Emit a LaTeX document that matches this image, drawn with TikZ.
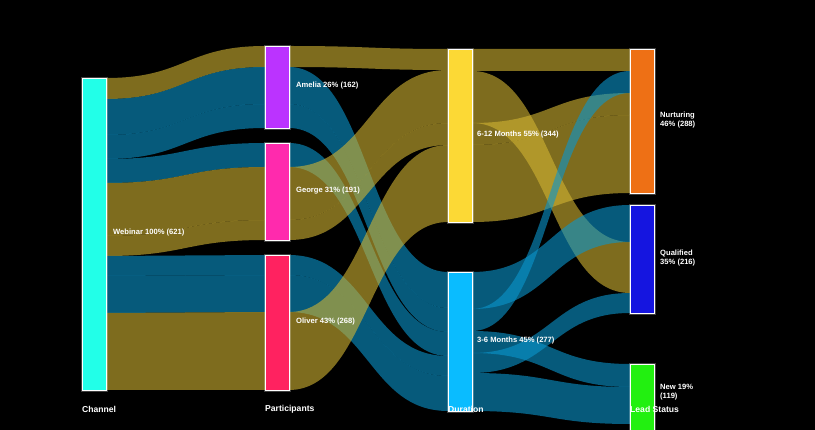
\documentclass[tikz,border=0pt]{standalone}
\usepackage{fontspec}
\setmainfont{Liberation Sans}
\begin{document}
\begin{tikzpicture}[x=1pt,y=-1pt,
  gold/.style={fill={rgb,255:red,210;green,180;blue,50},fill opacity=0.6},
  blu/.style={fill={rgb,255:red,10;green,150;blue,205},fill opacity=0.6},
  nodebox/.style={draw=white,line width=0.9pt,minimum width=24pt,anchor=north west,inner sep=0pt,
     preaction={draw=white,draw opacity=0.25,line width=3pt}},
  lbl/.style={text=white,font=\fontsize{7.6}{8.6}\selectfont\bfseries,anchor=west,inner sep=0pt,align=left},
  ax/.style={text=white,font=\fontsize{8.6}{10}\selectfont\bfseries,anchor=west,inner sep=0pt}]
\fill[black] (0,0) rectangle (815,430);
\useasboundingbox (0,0) rectangle (815,430);
\newcommand{\band}[7]{%
  \path[#7] (#1,#2) .. controls ({(#1+#4)/2},#2) and ({(#1+#4)/2},#5) .. (#4,#5)
    -- (#4,#6) .. controls ({(#1+#4)/2},#6) and ({(#1+#4)/2},#3) .. (#1,#3) -- cycle;}
% Channel -> Participants
\band{106}{78}{99}{265}{46}{67}{gold}
\band{106}{99}{135}{265}{67}{104}{blu}
\band{106}{135}{159}{265}{104}{128}{blu}
\band{106}{159}{183}{265}{143}{167}{blu}
\band{106}{183}{236}{265}{167}{220}{gold}
\band{106}{236}{256}{265}{220}{240}{gold}
\band{106}{256}{276}{265}{255}{275}{blu}
\band{106}{276}{313}{265}{275}{312}{blu}
\band{106}{313}{390}{265}{312}{390}{gold}
% Participants -> Duration
\band{289}{46}{67}{448}{49}{70}{gold}
\band{289}{67}{104}{448}{272}{308}{blu}
\band{289}{104}{128}{448}{308}{332}{blu}
\band{289}{143}{167}{448}{332}{356}{blu}
\band{289}{167}{220}{448}{70}{123}{gold}
\band{289}{220}{240}{448}{123}{145}{gold}
\band{289}{255}{275}{448}{356}{376}{blu}
\band{289}{275}{312}{448}{376}{411}{blu}
\band{289}{312}{390}{448}{145}{222}{gold}
% Duration -> Lead Status
\band{472}{49}{71}{630}{49}{71}{gold}
\band{472}{71}{123}{630}{242}{293}{gold}
\band{472}{123}{145}{630}{93}{115}{gold}
\band{472}{145}{222}{630}{115}{193}{gold}
\band{472}{272}{309}{630}{205}{242}{blu}
\band{472}{309}{331}{630}{71}{93}{blu}
\band{472}{331}{353}{630}{364}{387}{blu}
\band{472}{353}{373}{630}{293}{313}{blu}
\band{472}{373}{411}{630}{387}{424}{blu}
% nodes
\node[nodebox,fill={rgb,255:red,34;green,255;blue,232},minimum height=312pt] (web) at (82,78) {};
\node[nodebox,fill={rgb,255:red,187;green,51;blue,255},minimum height=82pt] (ame) at (265,46) {};
\node[nodebox,fill={rgb,255:red,255;green,42;blue,173},minimum height=97pt] (geo) at (265,143) {};
\node[nodebox,fill={rgb,255:red,255;green,34;blue,96},minimum height=135pt] (oli) at (265,255) {};
\node[nodebox,fill={rgb,255:red,252;green,217;blue,53},minimum height=173pt] (m612) at (448,49) {};
\node[nodebox,fill={rgb,255:red,10;green,188;blue,255},minimum height=139pt] (m36) at (448,272) {};
\node[nodebox,fill={rgb,255:red,238;green,112;blue,21},minimum height=144pt] (nur) at (630,49) {};
\node[nodebox,fill={rgb,255:red,21;green,21;blue,224},minimum height=108pt] (qua) at (630,205) {};
\node[nodebox,fill={rgb,255:red,34;green,240;blue,16},minimum height=66pt] (new) at (630,364) {};
% labels
\node[lbl] (lweb) at (113,233) {Webinar 100\% (621)};
\node[lbl] (lame) at (296,86) {Amelia 26\% (162)};
\node[lbl] (lgeo) at (296,191) {George 31\% (191)};
\node[lbl] (loli) at (296,322) {Oliver 43\% (268)};
\node[lbl] (l612) at (477,135) {6-12 Months 55\% (344)};
\node[lbl] (l36) at (477,341) {3-6 Months 45\% (277)};
\node[lbl] (lnur) at (660,120) {Nurturing\\46\% (288)};
\node[lbl] (lqua) at (660,258) {Qualified\\35\% (216)};
\node[lbl] (lnew) at (660,392) {New 19\%\\(119)};
\node[ax] (a1) at (82,409) {Channel};
\node[ax] (a2) at (265,409) {Participants};
\node[ax] (a3) at (448,409) {Duration};
\node[ax] (a4) at (630,409) {Lead Status};
\end{tikzpicture}
\end{document}
